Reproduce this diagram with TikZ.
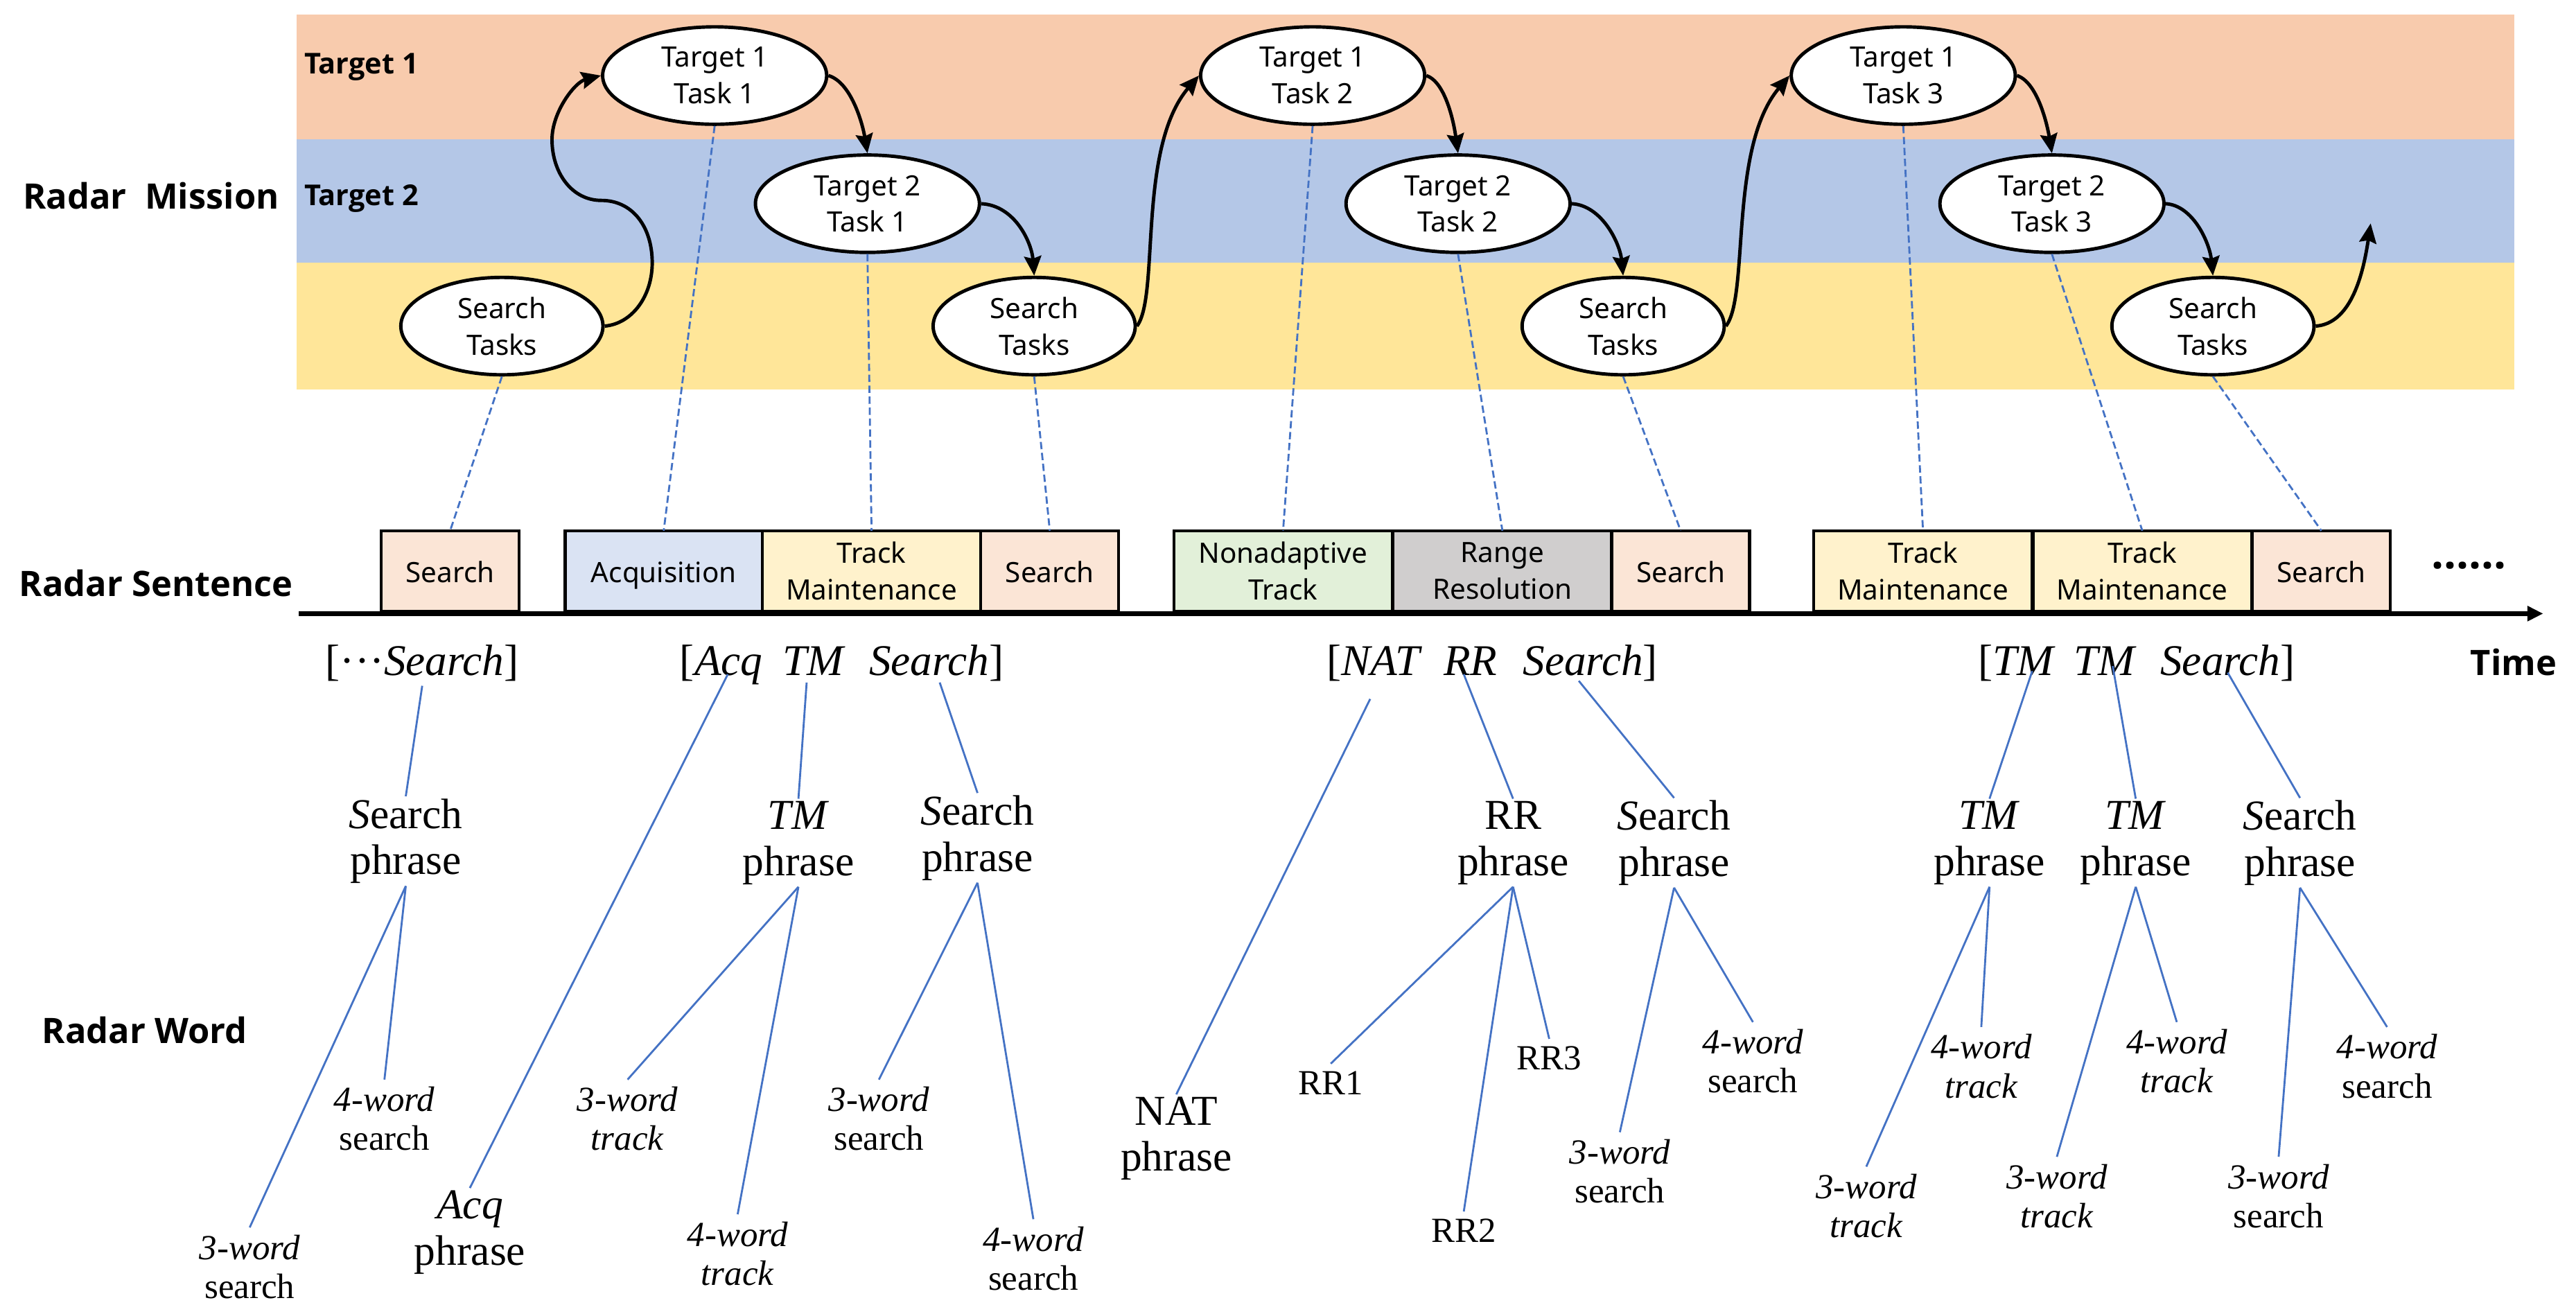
\documentclass[tikz,border=0pt]{standalone}
\usepackage{fontspec}
\setmainfont{Liberation Serif}
\setsansfont{Noto Sans}
\newfontfamily\lightf{Noto Sans}
\newfontfamily\medf{Open Sans}
\usetikzlibrary{shapes.geometric,arrows.meta}
\definecolor{bandA}{HTML}{F8CBAD}
\definecolor{bandB}{HTML}{B4C7E7}
\definecolor{bandC}{HTML}{FFE699}
\definecolor{srch}{HTML}{FBE5D6}
\definecolor{acq}{HTML}{DAE3F3}
\definecolor{tm}{HTML}{FFF2CC}
\definecolor{nat}{HTML}{E2F0D9}
\definecolor{rr}{HTML}{D0CECE}
\definecolor{lnk}{HTML}{4472C4}
\tikzset{
  x=0.023705cm,y=-0.023705cm,
  band/.style={draw=none,minimum width=910.9pt,inner sep=0pt,outer sep=0pt},
  title/.style={font=\medf\bfseries\fontsize{14.4}{19}\selectfont,inner sep=0pt},
  tlabel/.style={font=\medf\bfseries\fontsize{11.8}{14}\selectfont,inner sep=0pt},
  task/.style={ellipse,draw=black,line width=1.4pt,fill=white,minimum width=83pt,minimum height=40pt,inner sep=0pt,align=center,font=\lightf\fontsize{11.5}{15}\selectfont},
  tgt/.style={task,minimum width=92pt},
  seg/.style={draw=black,line width=1.2pt,minimum height=33pt,inner sep=0pt,outer sep=0pt,align=center,font=\lightf\fontsize{11.5}{15}\selectfont},
  single/.style={text height=9.5pt,text depth=0pt},
  flow/.style={line width=1.4pt,-{Stealth[length=8pt,width=7pt,inset=1pt]}},
  dashlink/.style={draw=lnk,line width=0.8pt,dash pattern=on 3pt off 1.5pt},
  treelink/.style={draw=lnk,line width=0.8pt},
  term/.style={font=\fontsize{18}{20}\selectfont\itshape,inner sep=0pt,anchor=base,text depth=0pt,outer ysep=3pt},
  phr/.style={font=\fontsize{17.5}{19}\selectfont,align=center,inner sep=0pt,outer ysep=1pt},
  wrd/.style={font=\fontsize{14.5}{16}\selectfont,align=center,inner sep=0pt,outer ysep=3pt},
}
\newcommand{\upb}[1]{{\upshape #1}}
\begin{document}
\begin{tikzpicture}
\useasboundingbox (0,0) rectangle (1568,799.43);
% bands
\node[band,fill=bandA,minimum height=51.2pt] (b1) at (855.5,47) {};
\node[band,fill=bandB,minimum height=50.6pt] (b2) at (855.5,122.5) {};
\node[band,fill=bandC,minimum height=51.9pt] (b3) at (855.5,198.5) {};
% level titles
\node[title] (mission) at (92,119) {Radar\ \ Mission};
\node[title] (sentence) at (95,355) {Radar Sentence};
\node[title] (word) at (88,627) {Radar Word};
\node[tlabel] (t1lab) at (220,41) {Target 1};
\node[tlabel] (t2lab) at (220,121) {Target 2};
% tasks
\node[task] (s1) at (305.5,198.5) {Search\\Tasks};
\node[tgt] (a1) at (435,46) {Target 1\\Task 1};
\node[tgt] (b1t) at (528,124) {Target 2\\Task 1};
\node[task] (s2) at (629.5,198.5) {Search\\Tasks};
\node[tgt] (a2) at (799,46) {Target 1\\Task 2};
\node[tgt] (b2t) at (887.5,124) {Target 2\\Task 2};
\node[task] (s3) at (988,198.5) {Search\\Tasks};
\node[tgt] (a3) at (1158.5,46) {Target 1\\Task 3};
\node[tgt] (b3t) at (1249,124) {Target 2\\Task 3};
\node[task] (s4) at (1347,198.5) {Search\\Tasks};
\coordinate (more) at (1443,136);
% flow arrows
\draw[flow] (s1.east) .. controls (385,197) and (397,180) .. (397,160) .. controls (397,138) and (385,122) .. (366,122) .. controls (348,122) and (336,105) .. (336,85) .. controls (336,68) and (350,50) .. (a1.west);
\draw[flow] (a1.east) .. controls (518,50) and (525,75) .. (b1t.north);
\draw[flow] (b1t.east) .. controls (618,125) and (628,148) .. (s2.north);
\draw[flow] (s2.east) .. controls (706,180) and (692,90) .. (a2.west);
\draw[flow] (a2.east) .. controls (880,50) and (885,75) .. (b2t.north);
\draw[flow] (b2t.east) .. controls (975,125) and (986,148) .. (s3.north);
\draw[flow] (s3.east) .. controls (1065,180) and (1052,90) .. (a3.west);
\draw[flow] (a3.east) .. controls (1240,50) and (1246,75) .. (b3t.north);
\draw[flow] (b3t.east) .. controls (1335,125) and (1345,148) .. (s4.north);
\draw[flow] (s4.east) .. controls (1430,197) and (1438,170) .. (more);
% sentence segments
\node[seg,single,fill=srch,minimum width=56.6pt] (q1) at (274,347.5) {Search};
\node[seg,single,fill=acq,minimum width=80.9pt] (q2) at (404,347.5) {Acquisition};
\node[seg,fill=tm,minimum width=89.7pt] (q3) at (530.5,347.5) {Track\\Maintenance};
\node[seg,single,fill=srch,minimum width=56.6pt] (q4) at (639,347.5) {Search};
\node[seg,fill=nat,minimum width=89.7pt] (q5) at (781,347.5) {Nonadaptive\\Track};
\node[seg,fill=rr,minimum width=89.7pt] (q6) at (914.5,347.5) {Range\\Resolution};
\node[seg,single,fill=srch,minimum width=56.6pt] (q7) at (1023,347.5) {Search};
\node[seg,fill=tm,minimum width=89.7pt] (q8) at (1170.5,347.5) {Track\\Maintenance};
\node[seg,fill=tm,minimum width=89.7pt] (q9) at (1304,347.5) {Track\\Maintenance};
\node[seg,single,fill=srch,minimum width=56.6pt] (q10) at (1413,347.5) {Search};
\foreach \u/\v in {s1/q1,a1/q2,b1t/q3,s2/q4,a2/q5,b2t/q6,s3/q7,a3/q8,b3t/q9,s4/q10}
  \draw[dashlink] (\u.south) -- (\v.north);
% time axis
\coordinate (axL) at (182,373.5);
\coordinate (axR) at (1548,373.5);
\draw[line width=2pt,-{Triangle[length=6.5pt,width=6pt]}] (axL) -- (axR);
\node[font=\medf\bfseries\fontsize{18}{18}\selectfont,inner sep=0pt,anchor=base] (dots) at (1503,346) {......};
\node[title] (time) at (1530,403) {Time};
% sentence formulas
\node[term] (f1) at (257,411) {\upb{[}\upb{\textperiodcentered\textperiodcentered\textperiodcentered}Search\upb{]}};
\node[term] (f2a) at (439,411) {\upb{[}Acq};
\node[term] (f2b) at (495,411) {TM};
\node[term] (f2c) at (570,411) {Search\upb{]}};
\node[term] (f3a) at (836,411) {\upb{[}NAT};
\node[term] (f3b) at (895,411) {RR};
\node[term] (f3c) at (968,411) {Search\upb{]}};
\node[term] (f4a) at (1227,411) {\upb{[}TM};
\node[term] (f4b) at (1281,411) {TM};
\node[term] (f4c) at (1356,411) {Search\upb{]}};
% phrases
\node[phr] (p1) at (247,512) {\textit{S}earch\\phrase};
\node[phr] (p2) at (286,750) {\textit{Acq}\\phrase};
\node[phr] (p3) at (486,513) {\textit{TM}\\phrase};
\node[phr] (p4) at (595,510) {\textit{S}earch\\phrase};
\node[phr] (p5) at (716,693) {NAT\\phrase};
\node[phr] (p6) at (921,513) {RR\\phrase};
\node[phr] (p7) at (1019,513) {\textit{S}earch\\phrase};
\node[phr] (p8) at (1211,513) {\textit{TM}\\phrase};
\node[phr] (p9) at (1300,513) {\textit{TM}\\phrase};
\node[phr] (p10) at (1400,513) {\textit{S}earch\\phrase};
% words
\node[wrd] (w1) at (152,771) {\textit{3-word}\\search};
\node[wrd] (w2) at (234,681) {\textit{4-word}\\search};
\node[wrd] (w3) at (382,681) {\textit{3-word}\\\textit{track}};
\node[wrd] (w4) at (449,763) {\textit{4-word}\\\textit{track}};
\node[wrd] (w5) at (535,681) {\textit{3-word}\\search};
\node[wrd] (w6) at (629,766) {\textit{4-word}\\search};
\node[wrd] (w7) at (810,659) {RR1};
\node[wrd] (w8) at (891,749) {RR2};
\node[wrd] (w9) at (943,644) {RR3};
\node[wrd] (w10) at (986,713) {\textit{3-word}\\search};
\node[wrd] (w11) at (1067,646) {\textit{4-word}\\search};
\node[wrd] (w12) at (1136,734) {\textit{3-word}\\\textit{track}};
\node[wrd] (w13) at (1206,649) {\textit{4-word}\\\textit{track}};
\node[wrd] (w14) at (1252,728) {\textit{3-word}\\\textit{track}};
\node[wrd] (w15) at (1325,646) {\textit{4-word}\\\textit{track}};
\node[wrd] (w16) at (1387,728) {\textit{3-word}\\search};
\node[wrd] (w17) at (1453,649) {\textit{4-word}\\search};
% tree links
\foreach \u/\v/\dx/\dy in {f1/p1/0/2,f2a/p2/4/-5,f2b/p3/-4/0,f2c/p4/2/0,f3a/p5/-2/10,f3b/p6/-4/-5,f3c/p7/-7/-1,f4a/p8/10/-7,f4b/p9/5/-10,f4c/p10/0/-6}
  \draw[treelink] ([shift={(\dx,\dy)}]\u.south) -- (\v.north);
\foreach \u/\v in {p1/w1,p1/w2,p3/w3,p3/w4,p4/w5,p4/w6,p6/w7,p6/w8,p6/w9,p7/w10,p7/w11,p8/w12,p8/w13,p9/w14,p9/w15,p10/w16,p10/w17}
  \draw[treelink] (\u.south) -- (\v.north);
\end{tikzpicture}
\end{document}
